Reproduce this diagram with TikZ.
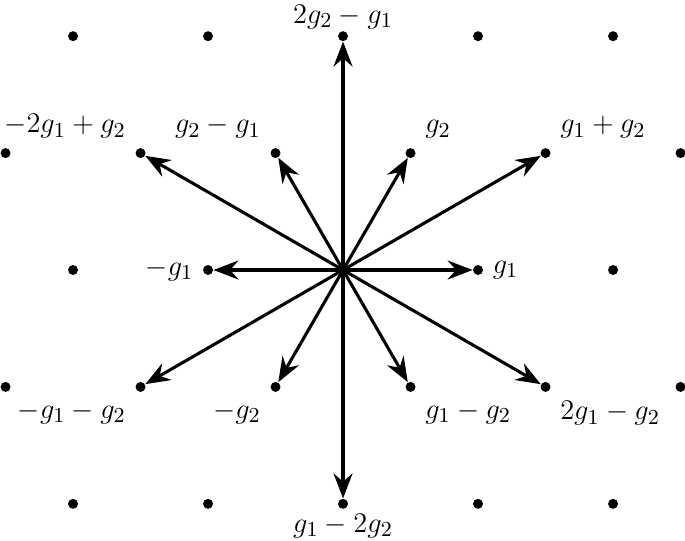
\documentclass[tikz,border=0pt]{standalone}
\usetikzlibrary{arrows.meta}
\tikzset{
  lat dot/.style={circle, fill=black, inner sep=0pt, minimum size=4.2pt},
  lat vec/.style={line width=1.3pt, -{Stealth[length=10.5pt, width=8pt, inset=3.5pt]}},
  lat label/.style={font=\fontsize{13}{15}\selectfont, inner sep=6pt},
}
\begin{document}
\begin{tikzpicture}[x=2cm, y=2cm]
  \useasboundingbox (-2.541,-2.007) rectangle (2.533,2.0);
  % Lattice points a*g1 + b*g2, named p<a><b>
  \foreach \b in {-2,...,2} {
    \foreach \a in {-4,...,4} {
      \pgfmathsetmacro\px{\a+0.5*\b}
      \pgfmathtruncatemacro\inside{abs(\px)<2.6}
      \ifnum\inside=1
        \node[lat dot] (p\a\b) at (\px,{0.866*\b}) {};
      \fi
    }
  }
  % Nearest and next-nearest reciprocal vectors
  \foreach \a/\b in {1/0,0/1,-1/1,-1/0,0/-1,1/-1,1/1,-1/2,-2/1,-1/-1,1/-2,2/-1}
    \draw[lat vec] (p00.center) -- (p\a\b);
  % Labels
  \foreach \a/\b/\pos/\txt in {
      1/0/right/{g_1}, 0/1/above right/{g_2}, -1/1/above left/{g_2-g_1},
      -1/0/left/{-g_1}, 0/-1/below left/{-g_2}, 1/-1/below right/{g_1-g_2},
      1/1/above right/{g_1+g_2}, -2/1/above left/{-2g_1+g_2},
      -1/-1/below left/{-g_1-g_2}, 2/-1/below right/{2g_1-g_2}}
    \node[lat label, \pos] (l\a\b) at (p\a\b) {$\txt$};
  \node[lat label, above, inner sep=3pt] (l-12) at (p-12) {$2g_2-g_1$};
  \node[lat label, below, inner sep=4pt] (l1-2) at (p1-2) {$g_1-2g_2$};
\end{tikzpicture}
\end{document}
